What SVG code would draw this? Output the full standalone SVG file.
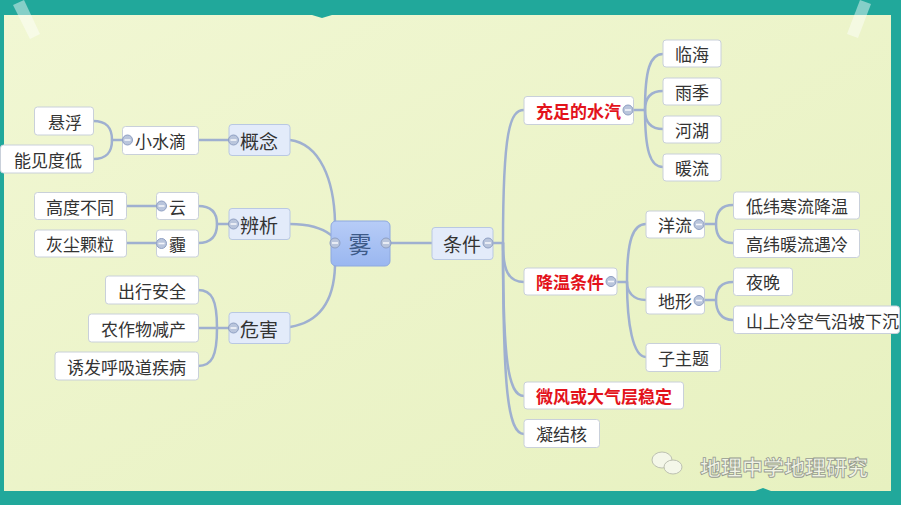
<svg xmlns="http://www.w3.org/2000/svg" width="901" height="505" viewBox="0 0 901 505">
<defs>
<linearGradient id="bg" x1="0" y1="0" x2="1" y2="1">
<stop offset="0" stop-color="#f1f7d3"/>
<stop offset="1" stop-color="#e7f1c0"/>
</linearGradient>
<linearGradient id="rootg" x1="0" y1="0" x2="0" y2="1">
<stop offset="0" stop-color="#b7ccf7"/>
<stop offset="1" stop-color="#9ab7f0"/>
</linearGradient>
<g id="col">
<circle r="5" fill="#b9c5dc" stroke="#8e9fc2" stroke-width="1"/>
<line x1="-3" y1="0" x2="3" y2="0" stroke="#f4f6fb" stroke-width="1.6"/>
</g>
</defs>
<style>
.leaf{fill:#ffffff;stroke:#c9d0da;stroke-width:1}
.main{fill:#e3ebfa;stroke:#b9c8e2;stroke-width:1}
.t{font-family:"Noto Sans CJK SC","Noto Sans",sans-serif;font-size:17px;fill:#333333;dominant-baseline:central}
.tm{font-family:"Noto Sans CJK SC","Noto Sans",sans-serif;font-size:19px;fill:#333333;dominant-baseline:central}
.tr{font-family:"Noto Sans CJK SC","Noto Sans",sans-serif;font-size:17px;font-weight:bold;fill:#e3131b;dominant-baseline:central}
.c{fill:none;stroke:#9fb0d0;stroke-width:2.5;stroke-linecap:round}
</style>
<!-- frame -->
<rect x="0" y="0" width="901" height="505" fill="#21a89b"/>
<rect x="4" y="15" width="887" height="476" fill="url(#bg)"/>
<path d="M312 15 L322 18 L332 15 Z" fill="#21a89b"/>
<path d="M755 491 L763 488 L771 491 Z" fill="#21a89b"/>
<path d="M13 5 L24 0 L40 34 L30 39 Z" fill="#ffffff" opacity="0.45"/>
<path d="M860 0 L871 4 L858 38 L847 34 Z" fill="#ffffff" opacity="0.45"/>
<!-- connectors -->
<g id="connectors">
<path class="c" d="M390 243 H432"/>
<path class="c" d="M290 140 C320 144 334 180 335 222"/>
<path class="c" d="M290 224 C310 224 322 228 331 235"/>
<path class="c" d="M290 327 C320 322 334 300 335 266"/>
<path class="c" d="M229 140 H198"/>
<path class="c" d="M122 140 H112"/>
<path class="c" d="M93 121 C107 121 112 128 112 140 C112 152 107 159 93 159"/>
<path class="c" d="M229 224 H217"/>
<path class="c" d="M198 206 C212 206 217 213 217 224 C217 235 212 243 198 243"/>
<path class="c" d="M157 206 H126"/>
<path class="c" d="M157 243 H126"/>
<path class="c" d="M229 328 H198"/>
<path class="c" d="M198 290 C212 290 217 300 217 328 C217 356 212 366 198 366"/>
<path class="c" d="M493 243 H503"/>
<path class="c" d="M524 110 C510 110 503 130 503 243 C503 270 508 282 524 282"/>
<path class="c" d="M503 243 C503 360 508 396 524 396"/>
<path class="c" d="M503 243 C503 390 508 434 524 434"/>
<path class="c" d="M633 110 H645"/>
<path class="c" d="M663 54 C650 54 645 70 645 110 C645 150 650 167 663 167"/>
<path class="c" d="M663 91 C650 91 645 98 645 110 C645 122 650 129 663 129"/>
<path class="c" d="M617 282 H627"/>
<path class="c" d="M646 224 C633 224 627 240 627 282 C627 324 633 357 646 357"/>
<path class="c" d="M627 282 C627 292 633 300 646 300"/>
<path class="c" d="M704 224 H716"/>
<path class="c" d="M733 205 C721 205 716 212 716 224 C716 236 721 243 733 243"/>
<path class="c" d="M704 300 H716"/>
<path class="c" d="M733 282 C721 282 716 289 716 300 C716 311 721 320 733 320"/>
</g>
<!-- root -->
<g id="node-wu">
<rect x="331" y="221" width="59" height="45" rx="5" fill="url(#rootg)" stroke="#8ea8df" stroke-width="1"/>
<text x="360" y="243" text-anchor="middle" style="font-family:'Noto Sans CJK SC',sans-serif;font-size:23px;fill:#3d5a88;dominant-baseline:central">雾</text>
<use href="#col" x="335" y="243"/>
<use href="#col" x="386" y="243"/>
</g>
<!-- left main -->
<g id="node-gainian">
<rect class="main" x="229" y="124.5" width="61" height="31" rx="3"/>
<text class="tm" x="259" y="140" text-anchor="middle">概念</text>
<use href="#col" x="233.5" y="140"/>
</g>
<g id="node-bianxi">
<rect class="main" x="229" y="208.5" width="61" height="31" rx="3"/>
<text class="tm" x="259" y="224" text-anchor="middle">辨析</text>
<use href="#col" x="233.5" y="224"/>
</g>
<g id="node-weihai">
<rect class="main" x="229" y="312.5" width="61" height="31" rx="3"/>
<text class="tm" x="259" y="328" text-anchor="middle">危害</text>
<use href="#col" x="233.5" y="328"/>
</g>
<g id="node-xiaoshuidi">
<rect class="leaf" x="122.5" y="126.5" width="76" height="28" rx="3"/>
<text class="t" x="186" y="140" text-anchor="end">小水滴</text>
<use href="#col" x="127.5" y="140"/>
</g>
<g id="node-xuanfu">
<rect class="leaf" x="34.5" y="107" width="59" height="28" rx="3"/>
<text class="t" x="82" y="121" text-anchor="end">悬浮</text>
</g>
<g id="node-nengjiandudi">
<rect class="leaf" x="0.5" y="145" width="93" height="28" rx="3"/>
<text class="t" x="82" y="159" text-anchor="end">能见度低</text>
</g>
<g id="node-yun">
<rect class="leaf" x="156.5" y="192.5" width="42" height="27" rx="3"/>
<text class="t" x="186" y="206" text-anchor="end">云</text>
<use href="#col" x="161.5" y="206"/>
</g>
<g id="node-mai">
<rect class="leaf" x="156.5" y="230" width="42" height="27" rx="3"/>
<text class="t" x="186" y="243.5" text-anchor="end">霾</text>
<use href="#col" x="161.5" y="243.5"/>
</g>
<g id="node-gaodubutong">
<rect class="leaf" x="34.5" y="192.5" width="92" height="27" rx="3"/>
<text class="t" x="114" y="206" text-anchor="end">高度不同</text>
</g>
<g id="node-huichenkeli">
<rect class="leaf" x="34.5" y="230" width="92" height="27" rx="3"/>
<text class="t" x="114" y="243.5" text-anchor="end">灰尘颗粒</text>
</g>
<g id="node-chuxing">
<rect class="leaf" x="105.5" y="276" width="93" height="28" rx="3"/>
<text class="t" x="186" y="290" text-anchor="end">出行安全</text>
</g>
<g id="node-nongzuowu">
<rect class="leaf" x="88.5" y="314" width="110" height="28" rx="3"/>
<text class="t" x="186" y="328" text-anchor="end">农作物减产</text>
</g>
<g id="node-youfa">
<rect class="leaf" x="55" y="352" width="143.5" height="28" rx="3"/>
<text class="t" x="186" y="366" text-anchor="end">诱发呼吸道疾病</text>
</g>
<!-- right -->
<g id="node-tiaojian">
<rect class="main" x="432" y="227.5" width="61" height="32" rx="3"/>
<text class="tm" x="462" y="243" text-anchor="middle">条件</text>
<use href="#col" x="488" y="243"/>
</g>
<g id="node-chongzu">
<rect class="leaf" x="524" y="96.5" width="109.5" height="28" rx="3"/>
<text class="tr" x="536" y="110">充足的水汽</text>
<use href="#col" x="628" y="110"/>
</g>
<g id="node-linhai">
<rect class="leaf" x="663" y="40" width="58" height="27" rx="3"/>
<text class="t" x="675" y="53.5">临海</text>
</g>
<g id="node-yuji">
<rect class="leaf" x="663" y="78" width="58" height="27" rx="3"/>
<text class="t" x="675" y="91.5">雨季</text>
</g>
<g id="node-hehu">
<rect class="leaf" x="663" y="116" width="58" height="27" rx="3"/>
<text class="t" x="675" y="129.5">河湖</text>
</g>
<g id="node-nuanliu">
<rect class="leaf" x="663" y="154" width="58" height="27" rx="3"/>
<text class="t" x="675" y="167.5">暖流</text>
</g>
<g id="node-jiangwen">
<rect class="leaf" x="524" y="268" width="93" height="27" rx="3"/>
<text class="tr" x="536" y="281.5">降温条件</text>
<use href="#col" x="611" y="281.5"/>
</g>
<g id="node-yangliu">
<rect class="leaf" x="646" y="211" width="58.5" height="27" rx="3"/>
<text class="t" x="658" y="224.5">洋流</text>
<use href="#col" x="699" y="224.5"/>
</g>
<g id="node-dixing">
<rect class="leaf" x="646" y="287" width="58.5" height="27" rx="3"/>
<text class="t" x="658" y="300.5">地形</text>
<use href="#col" x="699" y="300.5"/>
</g>
<g id="node-zizhuti">
<rect class="leaf" x="646" y="343.5" width="74.5" height="28" rx="3"/>
<text class="t" x="658" y="357.5">子主题</text>
</g>
<g id="node-diwei">
<rect class="leaf" x="733.5" y="192" width="126" height="27" rx="3"/>
<text class="t" x="746" y="205.5">低纬寒流降温</text>
</g>
<g id="node-gaowei">
<rect class="leaf" x="733.5" y="229.5" width="126" height="28" rx="3"/>
<text class="t" x="746" y="243.5">高纬暖流遇冷</text>
</g>
<g id="node-yewan">
<rect class="leaf" x="733.5" y="268" width="59" height="27.5" rx="3"/>
<text class="t" x="746" y="281.5">夜晚</text>
</g>
<g id="node-shanshang">
<rect class="leaf" x="733.5" y="306" width="166" height="27.5" rx="3"/>
<text class="t" x="746" y="320">山上冷空气沿坡下沉</text>
</g>
<g id="node-weifeng">
<rect class="leaf" x="524" y="382" width="159.5" height="27" rx="3"/>
<text class="tr" x="536" y="395.5">微风或大气层稳定</text>
</g>
<g id="node-ningjiehe">
<rect class="leaf" x="524" y="419.5" width="75.5" height="28" rx="3"/>
<text class="t" x="536" y="433.5">凝结核</text>
</g>
<!-- watermark -->
<g id="watermark" opacity="0.9">
<ellipse cx="662" cy="460" rx="10" ry="8" fill="#f6f8ee" stroke="#b8bcb0" stroke-width="1"/>
<ellipse cx="673" cy="467" rx="9" ry="7" fill="#f6f8ee" stroke="#b8bcb0" stroke-width="1"/>
<text x="700" y="466" style="font-family:'Noto Sans CJK SC',sans-serif;font-size:21px;font-weight:bold;fill:#f3f5ea;stroke:#8d918a;stroke-width:0.8;dominant-baseline:central">地理中学地理研究</text>
</g>
</svg>
